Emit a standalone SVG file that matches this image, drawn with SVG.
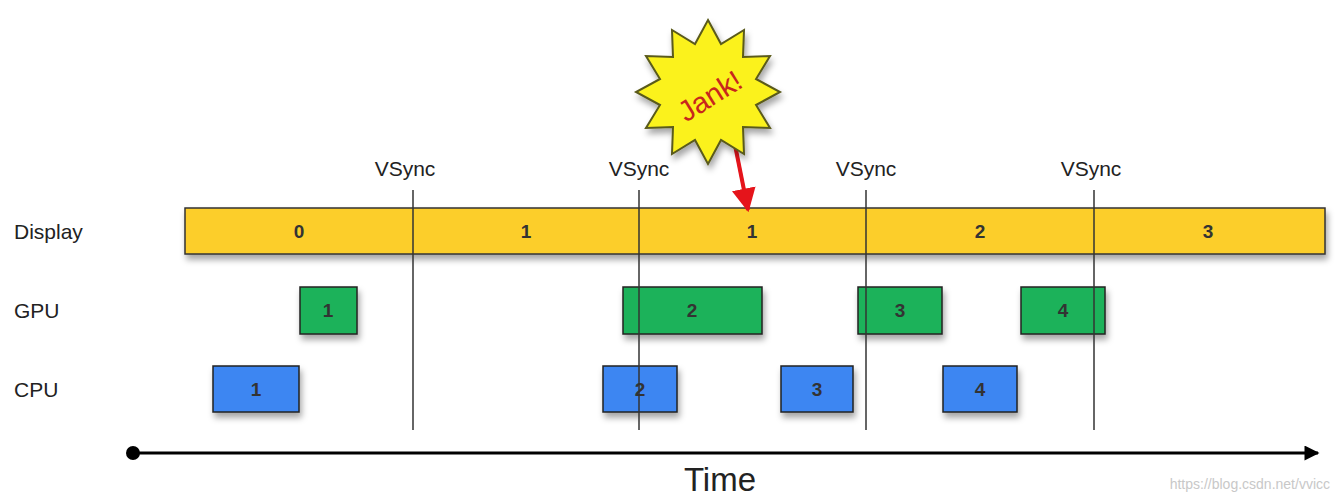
<svg xmlns="http://www.w3.org/2000/svg" width="1344" height="500" viewBox="0 0 1344 500">
<defs>
<filter id="sh" x="-20%" y="-20%" width="140%" height="160%"><feDropShadow dx="2" dy="5" stdDeviation="3" flood-color="#000" flood-opacity="0.35"/></filter>
<marker id="ah" viewBox="0 0 10 10" refX="9" refY="5" markerWidth="6" markerHeight="6" orient="auto"><path d="M0,0 L10,5 L0,10 z" fill="#e5141b"/></marker>
<marker id="tah" viewBox="0 0 10 10" refX="9" refY="5" markerWidth="7" markerHeight="5" orient="auto"><path d="M0,0 L10,5 L0,10 z" fill="#000"/></marker>
</defs>
<style>
text{font-family:"Liberation Sans",Arial,sans-serif;fill:#222}
.lab{font-size:21px}
.num{font-size:19px;text-anchor:middle;font-weight:bold;fill:#333}
.disp{fill:#fcce2c;stroke:#333;stroke-width:1.5}
.gpu{fill:#1fb25a;stroke:#222;stroke-width:1.5}
.cpu{fill:#3c86f2;stroke:#222;stroke-width:1.5}
.vs{stroke:#333;stroke-width:1.5}
</style>
<rect width="1344" height="500" fill="#fff"/>
<g id="labels">
<text class="lab" x="14" y="239">Display</text>
<text class="lab" x="14" y="318">GPU</text>
<text class="lab" x="14" y="397">CPU</text>
</g>
<g id="display">
<rect class="disp" x="185" y="208" width="1140" height="46" filter="url(#sh)"/>
<text class="num" x="299" y="238">0</text>
<text class="num" x="526" y="238">1</text>
<text class="num" x="752" y="238">1</text>
<text class="num" x="980" y="238">2</text>
<text class="num" x="1208" y="238">3</text>
</g>
<g id="gpu">
<rect class="gpu" x="300" y="287" width="57" height="47" filter="url(#sh)"/><text class="num" x="328" y="317">1</text>
<rect class="gpu" x="623" y="287" width="139" height="47" filter="url(#sh)"/><text class="num" x="692" y="317">2</text>
<rect class="gpu" x="858" y="287" width="84" height="47" filter="url(#sh)"/><text class="num" x="900" y="317">3</text>
<rect class="gpu" x="1021" y="287" width="84" height="47" filter="url(#sh)"/><text class="num" x="1063" y="317">4</text>
</g>
<g id="cpu">
<rect class="cpu" x="213" y="366" width="86" height="46" filter="url(#sh)"/><text class="num" x="256" y="396">1</text>
<rect class="cpu" x="603" y="366" width="74" height="46" filter="url(#sh)"/><text class="num" x="640" y="396">2</text>
<rect class="cpu" x="781" y="366" width="72" height="46" filter="url(#sh)"/><text class="num" x="817" y="396">3</text>
<rect class="cpu" x="943" y="366" width="74" height="46" filter="url(#sh)"/><text class="num" x="980" y="396">4</text>
</g>
<g id="connectors">
<line class="vs" x1="413" y1="190" x2="413" y2="430"/>
<line class="vs" x1="639" y1="190" x2="639" y2="430"/>
<line class="vs" x1="866" y1="190" x2="866" y2="430"/>
<line class="vs" x1="1094" y1="190" x2="1094" y2="430"/>
<line x1="133" y1="453" x2="1318" y2="453" stroke="#000" stroke-width="3" marker-end="url(#tah)"/>
<circle cx="133" cy="453" r="7" fill="#000"/>
<line x1="733" y1="135" x2="748" y2="210" stroke="#e5141b" stroke-width="4" marker-end="url(#ah)"/>
</g>
<g id="vsync-labels">
<text class="lab" x="405" y="176" text-anchor="middle">VSync</text>
<text class="lab" x="639" y="176" text-anchor="middle">VSync</text>
<text class="lab" x="866" y="176" text-anchor="middle">VSync</text>
<text class="lab" x="1091" y="176" text-anchor="middle">VSync</text>
</g>
<g id="jank">
<polygon points="708,20 721,44 744,30 743,57 770,56 756,79 780,92 756,105 770,128 743,127 744,154 721,140 708,164 695,140 672,154 673,127 646,128 660,105 636,92 660,79 646,56 673,57 672,30 695,44" fill="#fbf21f" stroke="#5a5a1a" stroke-width="2" filter="url(#sh)"/>
<text x="710" y="106" font-size="29" text-anchor="middle" transform="rotate(-32 710 96)" style="fill:#c8261c">Jank!</text>
</g>
<text x="720" y="491" font-size="33" text-anchor="middle">Time</text>
<text x="1330" y="489" font-size="14" text-anchor="end" style="fill:#c8c8c8">https://blog.csdn.net/vvicc</text>
</svg>
